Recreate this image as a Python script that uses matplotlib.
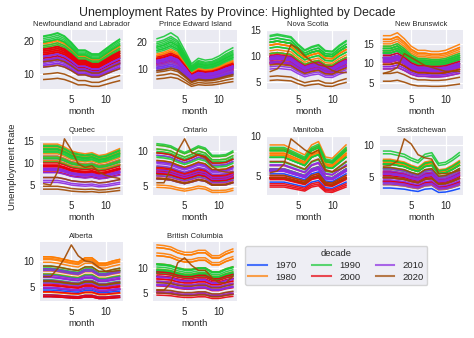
import matplotlib
matplotlib.use("Agg")
from matplotlib import pyplot as plt
from matplotlib.lines import Line2D

# years 1976-2023, coloured by decade
years = list(range(1976, 2024))
decades = [1970, 1980, 1990, 2000, 2010, 2020]
colors = ["#023eff", "#ff7c00", "#1ac938", "#e8000b", "#8b2be2", "#9f4800"]
months = list(range(1, 13))

# yearly level of each province (1976..2023)
nl_level = [12.5, 14.0, 14.5, 13.5,
            12.5, 13.0, 15.0, 16.5, 17.5, 17.8, 17.0, 16.0, 14.5, 14.0,
            15.5, 16.5, 19.0, 19.7, 19.5, 18.0, 18.5, 18.0, 17.0, 16.0,
            16.0, 15.5, 16.0, 15.5, 15.0, 14.5, 14.5, 13.5, 13.0, 15.0,
            14.0, 12.5, 12.0, 11.0, 11.5, 12.5, 13.0, 14.0, 13.0, 11.5,
            12.5, 11.0, 9.0, 7.5]
pe_level = [7.5, 8.0, 9.0, 8.5,
            9.0, 10.0, 11.0, 12.0, 12.5, 12.0, 11.5, 11.0, 10.5, 11.0,
            13.5, 14.5, 16.0, 17.0, 15.5, 14.5, 15.0, 14.0, 13.5, 13.0,
            11.5, 11.0, 11.0, 10.5, 10.5, 10.5, 10.0, 9.5, 9.5, 11.0,
            10.5, 10.5, 10.5, 10.0, 10.0, 10.0, 9.5, 9.0, 8.5, 8.0,
            7.5, 7.0, 6.0, 5.0]
ns_level = [8.0, 9.0, 9.5, 9.0,
            9.0, 9.5, 11.0, 11.5, 11.5, 11.0, 11.0, 10.0, 9.5, 9.5,
            10.5, 11.5, 12.5, 12.7, 12.0, 11.5, 12.0, 11.5, 10.5, 9.5,
            9.0, 9.2, 9.0, 8.8, 8.5, 8.3, 8.0, 7.8, 7.7, 9.0,
            9.0, 8.8, 8.7, 8.6, 8.5, 8.4, 8.0, 7.8, 7.2, 6.8,
            9.0, 7.5, 5.5, 4.8]
nb_level = [10.0, 11.0, 11.5, 10.5,
            11.5, 12.5, 14.0, 14.8, 14.0, 13.5, 13.0, 12.0, 11.0, 11.5,
            12.0, 12.5, 12.0, 11.5, 11.0, 11.0, 11.5, 12.0, 11.0, 10.0,
            9.8, 10.5, 10.0, 10.0, 9.5, 9.0, 8.5, 7.5, 8.5, 9.0,
            9.2, 9.3, 10.0, 10.0, 9.8, 9.5, 9.0, 8.0, 8.0, 7.5,
            9.5, 8.5, 6.5, 4.8]
qc_level = [8.5, 10.0, 10.5, 9.5,
            9.5, 10.5, 13.0, 12.5, 12.2, 11.8, 11.0, 10.0, 9.5, 9.3,
            10.0, 12.0, 12.7, 12.5, 12.0, 11.3, 11.8, 11.5, 10.3, 9.3,
            8.5, 8.7, 8.6, 9.1, 8.5, 8.3, 8.0, 7.2, 7.2, 8.5,
            8.0, 7.8, 7.8, 7.6, 7.7, 7.6, 7.1, 6.1, 5.5, 5.1,
            8.9, 6.1, 3.7, 4.3]
on_level = [6.0, 6.8, 7.0, 6.3,
            6.7, 6.5, 9.5, 10.0, 9.0, 8.0, 7.0, 6.0, 4.8, 4.5,
            6.2, 9.2, 10.0, 10.2, 9.5, 8.6, 9.0, 8.4, 7.2, 6.3,
            5.7, 6.3, 7.1, 6.9, 6.8, 6.6, 6.3, 6.4, 6.5, 9.0,
            8.7, 7.8, 7.8, 7.6, 7.3, 6.8, 6.5, 6.0, 5.6, 5.6,
            8.0, 8.0, 5.6, 5.7]
mb_level = [4.0, 5.0, 5.5, 4.5,
            5.5, 6.0, 8.0, 8.5, 8.0, 7.8, 7.5, 7.2, 7.5, 7.3,
            7.0, 7.8, 8.2, 8.0, 7.8, 7.0, 7.0, 6.4, 5.6, 5.6,
            4.5, 4.5, 4.6, 4.5, 4.8, 4.3, 3.8, 3.6, 3.4, 4.4,
            5.4, 5.4, 5.3, 5.4, 5.4, 5.6, 6.1, 5.4, 6.0, 5.3,
            7.0, 6.5, 4.5, 4.8]
sk_level = [3.0, 3.5, 4.0, 3.8,
            3.5, 3.8, 5.5, 6.5, 7.0, 7.2, 7.0, 6.8, 6.5, 6.8,
            6.5, 7.0, 8.0, 8.4, 7.0, 6.5, 6.5, 6.0, 5.8, 5.8,
            4.8, 5.2, 5.4, 5.3, 5.0, 4.8, 4.5, 4.0, 4.0, 4.5,
            5.0, 4.6, 4.2, 3.8, 3.6, 4.5, 5.8, 5.5, 5.2, 5.0,
            7.5, 6.0, 4.5, 4.6]
ab_level = [3.0, 4.2, 4.5, 3.3,
            3.8, 3.8, 7.7, 10.3, 10.3, 10.0, 9.8, 9.3, 8.0, 7.2,
            7.0, 8.2, 8.2, 8.6, 8.1, 7.9, 7.1, 6.1, 5.7, 5.7,
            5.0, 4.6, 5.3, 5.1, 4.6, 3.9, 3.0, 3.0, 3.3, 6.6,
            6.5, 5.5, 4.6, 4.6, 4.7, 6.0, 8.1, 7.8, 6.6, 6.9,
            9.0, 8.6, 5.8, 5.9]
bc_level = [8.6, 8.5, 8.3, 7.7,
            6.8, 6.7, 11.5, 13.0, 13.5, 13.0, 12.0, 11.5, 10.0, 9.0,
            8.3, 9.9, 10.0, 9.8, 9.4, 9.0, 8.7, 8.4, 8.8, 8.3,
            7.2, 7.7, 8.5, 8.1, 7.2, 5.9, 4.8, 4.2, 4.6, 7.7,
            7.6, 7.5, 6.8, 6.6, 6.1, 6.2, 6.0, 5.1, 4.7, 4.7,
            8.5, 6.5, 4.6, 5.2]

# seasonal pattern (ratio to the yearly level) for Jan..Dec
nl_season = [1.1, 1.12, 1.15, 1.1, 1.0, 0.88, 0.88, 0.82, 0.82, 0.9, 0.98, 1.05]
pe_season = [1.25, 1.3, 1.38, 1.28, 1.0, 0.7, 0.82, 0.78, 0.8, 0.87, 0.97, 1.05]
ns_season = [1.1, 1.12, 1.1, 1.08, 0.97, 0.88, 0.93, 0.96, 0.87, 0.86, 0.95, 1.02]
nb_season = [1.15, 1.15, 1.2, 1.1, 0.97, 0.9, 0.9, 0.88, 0.88, 0.9, 0.95, 1.0]
qc_season = [1.1, 1.1, 1.1, 1.05, 0.98, 0.95, 0.93, 0.95, 0.9, 0.92, 0.97, 1.02]
on_season = [1.08, 1.07, 1.05, 1.0, 0.96, 1.0, 1.05, 1.02, 0.92, 0.92, 0.93, 0.98]
mb_season = [1.05, 1.05, 1.05, 1.0, 0.95, 0.9, 1.05, 1.1, 0.87, 0.85, 0.95, 1.05]
sk_season = [1.08, 1.08, 1.05, 1.02, 0.95, 0.9, 1.02, 1.05, 0.85, 0.87, 0.95, 1.05]
ab_season = [1.05, 1.05, 1.03, 1.0, 0.97, 0.95, 1.03, 1.03, 0.93, 0.93, 0.97, 1.0]
bc_season = [1.08, 1.07, 1.05, 1.0, 0.97, 0.97, 1.0, 1.0, 0.92, 0.92, 0.98, 1.02]

# 2020 monthly values (pandemic spike)
ns_2020 = [7.0, 7.5, 9.0, 12.2, 11.5, 10.0, 9.0, 8.3, 8.0, 7.2, 6.8, 6.8]
nb_2020 = [7.5, 8.0, 9.0, 12.5, 11.5, 10.5, 9.5, 9.0, 8.5, 8.0, 8.0, 8.0]
qc_2020 = [5.3, 5.0, 8.0, 15.5, 13.0, 9.8, 9.0, 9.4, 8.0, 7.2, 6.8, 6.5]
on_2020 = [5.5, 5.5, 7.5, 10.0, 11.7, 9.8, 9.4, 9.0, 7.8, 7.2, 7.0, 7.0]
mb_2020 = [5.4, 5.6, 6.5, 9.7, 9.0, 8.3, 7.8, 8.3, 5.8, 5.5, 5.8, 6.2]
sk_2020 = [6.7, 6.8, 7.5, 11.0, 10.2, 8.5, 8.0, 7.8, 5.5, 5.5, 5.7, 6.0]
ab_2020 = [7.0, 7.0, 8.5, 10.5, 13.1, 11.0, 10.0, 9.8, 8.8, 8.0, 8.0, 8.2]
bc_2020 = [5.5, 5.5, 7.0, 11.0, 12.0, 10.5, 9.5, 9.5, 8.0, 7.0, 7.0, 8.3]

provinces = ["Newfoundland and Labrador", "Prince Edward Island", "Nova Scotia",
             "New Brunswick", "Quebec", "Ontario", "Manitoba", "Saskatchewan",
             "Alberta", "British Columbia"]
levels = [nl_level, pe_level, ns_level, nb_level, qc_level, on_level,
          mb_level, sk_level, ab_level, bc_level]
seasons = [nl_season, pe_season, ns_season, nb_season, qc_season, on_season,
           mb_season, sk_season, ab_season, bc_season]
rows_2020 = [None, None, ns_2020, nb_2020, qc_2020, on_2020,
             mb_2020, sk_2020, ab_2020, bc_2020]
yticks = [[10, 20], [10, 20], [5, 10, 15], [5, 10, 15], [5, 10, 15],
          [5, 10], [5, 10], [5, 10], [5, 10], [5, 10]]

plt.rcParams.update({
    "font.family": ["Liberation Sans", "DejaVu Sans"],
    "axes.facecolor": "#EAEAF2",
    "axes.edgecolor": "white",
    "axes.grid": True,
    "axes.axisbelow": True,
    "grid.color": "white",
    "grid.linewidth": 0.9,
    "xtick.major.size": 0,
    "ytick.major.size": 0,
    "text.color": ".15",
    "xtick.color": ".15",
    "ytick.color": ".15",
    "axes.labelcolor": ".15",
})

fig, axes = plt.subplots(3, 4, figsize=(4.74, 3.38), dpi=100)
fig.subplots_adjust(left=0.0844, right=0.977, top=0.911, bottom=0.109,
                    wspace=0.36, hspace=0.8)

for ax, prov, lev, sea, r20, yt in zip(axes.flat, provinces, levels, seasons,
                                        rows_2020, yticks):
    for yr, lv in zip(years, lev):
        col = colors[decades.index(yr // 10 * 10)]
        if yr == 2020 and r20 is not None:
            vals = r20
        else:
            vals = [lv * s for s in sea]
        ax.plot(months, vals, color=col, lw=1.1, alpha=0.9)
    ax.set_title(prov, fontsize=5.5, pad=3)
    ax.set_xticks([5, 10])
    ax.set_yticks(yt)
    ax.set_xlabel("month", fontsize=6.8, labelpad=2)
    ax.tick_params(labelsize=7, pad=4)
    for s in ax.spines.values():
        s.set_visible(False)

axes[2, 2].remove()
axes[2, 3].remove()

fig.suptitle("Unemployment Rates by Province: Highlighted by Decade",
             fontsize=8.8, y=0.963, va="center")
fig.text(13 / 474, 1 - 167 / 338, "Unemployment Rate", rotation=90,
         ha="center", va="center", fontsize=6.8)

handles = [Line2D([], [], color=c, lw=1.5, alpha=0.7) for c in colors]
fig.legend(handles, [str(d) for d in decades], title="decade", ncol=3,
           loc="upper left", bbox_to_anchor=(240 / 474, 1 - 241 / 338),
           fontsize=6.8, title_fontsize=6.8, handlelength=2,
           columnspacing=1.6, handletextpad=0.9, borderpad=0.35,
           labelspacing=0.3, facecolor="#EAEAF2", edgecolor="0.8")

fig.savefig("out.png", dpi=100)
